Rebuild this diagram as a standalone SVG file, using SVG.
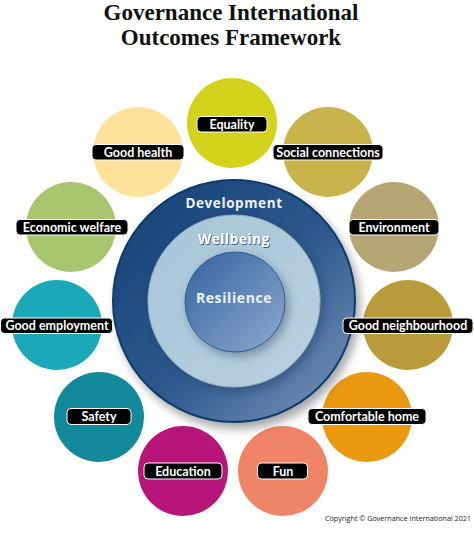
<svg xmlns="http://www.w3.org/2000/svg" width="474" height="538" viewBox="0 0 474 538">
<defs>
<style>
.title{font-family:"Liberation Serif",serif;font-weight:bold;font-size:23px;fill:#111;text-anchor:middle}
.lbl rect{fill:#000;stroke:#fff;stroke-width:1}
.lbl text{font-family:Lato,"Open Sans",sans-serif;font-weight:bold;font-size:12.5px;fill:#fff;text-anchor:middle}
.ring{font-family:"Open Sans",sans-serif;font-weight:bold;font-size:13.5px;text-anchor:middle;letter-spacing:0.6px}
.copy{font-family:"Open Sans",sans-serif;font-size:7.2px;fill:#222;text-anchor:end}
</style>
<linearGradient id="gOuter" x1="0" y1="0" x2="1" y2="1">
<stop offset="0" stop-color="#123f73"/>
<stop offset="0.55" stop-color="#2e5a8e"/>
<stop offset="1" stop-color="#7f99bf"/>
</linearGradient>
<linearGradient id="gMid" x1="0" y1="0" x2="1" y2="1">
<stop offset="0" stop-color="#a7c6d8"/>
<stop offset="1" stop-color="#b9d0de"/>
</linearGradient>
<linearGradient id="gIn" x1="0" y1="0" x2="1" y2="1">
<stop offset="0" stop-color="#33649f"/>
<stop offset="1" stop-color="#8fa9cf"/>
</linearGradient>
<filter id="sh" x="-20%" y="-20%" width="150%" height="150%">
<feDropShadow dx="4" dy="6" stdDeviation="5" flood-color="#000" flood-opacity="0.35"/>
</filter>
<filter id="sh2" x="-20%" y="-20%" width="150%" height="150%">
<feDropShadow dx="3" dy="4" stdDeviation="4" flood-color="#1a3350" flood-opacity="0.4"/>
</filter>
<filter id="tsh" x="-10%" y="-30%" width="130%" height="180%">
<feDropShadow dx="0.8" dy="1" stdDeviation="0.7" flood-color="#2c5575" flood-opacity="0.95"/>
</filter>
</defs>
<rect width="474" height="538" fill="#fff"/>
<text class="title" x="231" y="20">Governance International</text>
<text class="title" x="231" y="45">Outcomes Framework</text>

<g id="equality"><circle cx="232" cy="123" r="45" fill="#d3d31c"/><g class="lbl"><rect x="197" y="116.5" width="70" height="15.5" rx="4"/><text x="232" y="128.5">Equality</text></g></g>
<g id="social-connections"><circle cx="328" cy="152" r="45" fill="#c9b44c"/></g>
<g id="good-health"><circle cx="138" cy="152" r="45" fill="#fde29c"/><g class="lbl"><rect x="92" y="144.5" width="92" height="15.5" rx="4"/><text x="138" y="156.5">Good health</text></g></g>
<g id="environment"><circle cx="394" cy="227" r="45" fill="#b6a674"/><g class="lbl"><rect x="349" y="219.5" width="90" height="15.5" rx="4"/><text x="394" y="231.5">Environment</text></g></g>
<g id="economic-welfare"><circle cx="71" cy="227" r="45" fill="#a7c66e"/><g class="lbl"><rect x="16" y="219.5" width="112" height="15.5" rx="4"/><text x="72" y="231.5">Economic welfare</text></g></g>
<g id="good-neighbourhood"><circle cx="408" cy="325" r="45" fill="#b99b3c"/></g>
<g id="good-employment"><circle cx="57" cy="325" r="45" fill="#1ba8b9"/><g class="lbl"><rect x="0.5" y="318" width="112" height="15.5" rx="4"/><text x="57" y="330">Good employment</text></g></g>
<g id="safety"><circle cx="99" cy="417" r="45" fill="#138a9b"/><g class="lbl"><rect x="67" y="408.5" width="64" height="16" rx="4"/><text x="99" y="421">Safety</text></g></g>
<g id="comfortable-home"><circle cx="367" cy="417" r="45" fill="#e99a10"/></g>
<g id="education"><circle cx="183" cy="471" r="45" fill="#b8157b"/><g class="lbl"><rect x="144" y="463" width="78" height="16" rx="4"/><text x="183" y="475.5">Education</text></g></g>
<g id="fun"><circle cx="283" cy="471" r="45" fill="#f08467"/><g class="lbl"><rect x="257.5" y="463" width="50" height="16" rx="4"/><text x="283" y="475.5">Fun</text></g></g>

<g id="core">
<circle cx="234" cy="301" r="121" fill="url(#gOuter)" stroke="#0e3a6a" stroke-width="2" filter="url(#sh)"/>
<circle cx="234" cy="301" r="86" fill="url(#gMid)" stroke="#8fb0c6" stroke-width="1" filter="url(#sh2)"/>
<circle cx="235" cy="302" r="50" fill="url(#gIn)" stroke="#2f5c93" stroke-width="1" filter="url(#sh2)"/>
<text class="ring" x="234" y="208" fill="#eef3f8">Development</text>
<text class="ring" x="234" y="244" fill="#ffffff" filter="url(#tsh)">Wellbeing</text>
<text class="ring" x="234" y="303" fill="#eef3f8" style="font-size:14px">Resilience</text>
</g>

<g id="labels-right">
<g class="lbl"><rect x="273" y="144.5" width="110" height="15.5" rx="4"/><text x="328" y="156.5">Social connections</text></g>
<g class="lbl"><rect x="343" y="318" width="130" height="15.5" rx="4"/><text x="408" y="330">Good neighbourhood</text></g>
<g class="lbl"><rect x="308" y="408.5" width="118" height="16" rx="4"/><text x="367" y="421">Comfortable home</text></g>
</g>

<g id="connectors"/>
<text class="copy" x="471" y="521">Copyright © Governance International 2021</text>
</svg>
